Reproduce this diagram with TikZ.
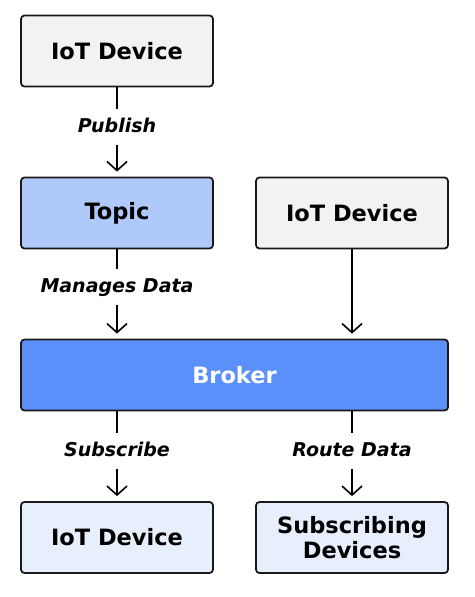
\documentclass[tikz,border=0pt]{standalone}
\usepackage{fontspec}
\setmainfont{DejaVu Sans}
\usetikzlibrary{arrows.meta}
\definecolor{greyfill}{HTML}{F2F2F2}
\definecolor{topicfill}{HTML}{B0C9FB}
\definecolor{brokerfill}{HTML}{5B8FF9}
\definecolor{subfill}{HTML}{E7EFFD}
\begin{document}
\begin{tikzpicture}[x=1pt,y=1pt,
  box/.style={draw=black!90, line width=1.8pt, rounded corners=3.5pt, minimum width=192pt, minimum height=71pt, align=center, font=\fontsize{22.5}{24}\selectfont\bfseries, inner sep=0pt},
  lab/.style={font=\fontsize{19}{21}\selectfont\bfseries\itshape, text height=14pt, text depth=4pt, inner xsep=2pt, inner ysep=9pt},
  conn/.style={line width=1.6pt},
  arr/.style={line width=1.6pt, -{Straight Barb[length=9pt,width=20pt,line width=1.6pt]}, shorten >=5pt}
]
\useasboundingbox (0,0) rectangle (474,-597);
\node[box, fill=greyfill] (dev1) at (117,-51) {IoT Device};
\node[box, fill=topicfill] (topic) at (117,-213) {Topic};
\node[box, fill=greyfill] (dev2) at (352,-213) {IoT Device};
\node[box, fill=brokerfill, text=white, minimum width=427pt] (broker) at (234.5,-375) {Broker};
\node[box, fill=subfill] (dev3) at (117,-537.5) {IoT Device};
\node[box, fill=subfill, font=\fontsize{22.5}{25}\selectfont\bfseries] (subs) at (352,-537.5) {Subscribing\\Devices};

\node[lab] (pub) at (117,-127) {Publish};
\node[lab] (man) at (117,-287) {Manages Data};
\node[lab] (sub) at (117,-451) {Subscribe};
\node[lab] (route) at (352,-451) {Route Data};

\draw[conn] (dev1.south) -- (pub.north);
\draw[arr] (pub.south) -- (topic.north);
\draw[conn] (topic.south) -- (man.north);
\draw[arr] (man.south) -- (broker.north -| man);
\draw[arr] (dev2.south) -- (broker.north -| dev2);
\draw[conn] (broker.south -| sub) -- (sub.north);
\draw[arr] (sub.south) -- (dev3.north);
\draw[conn] (broker.south -| route) -- (route.north);
\draw[arr] (route.south) -- (subs.north);
\end{tikzpicture}
\end{document}
